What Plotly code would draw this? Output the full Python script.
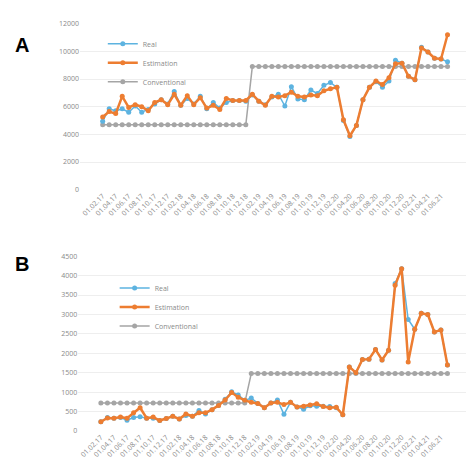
import plotly.graph_objects as go

# months 01.02.17 .. 01.07.21
months = []
for y in range(17, 22):
    for m in range(1, 13):
        if (y == 17 and m < 2) or (y == 21 and m > 7):
            continue
        months.append(f'01.{m:02d}.{y}')
tick_labels = months[::2]

real_a = [4950, 5850, 5700, 5850, 5600, 6050, 5600, 5800, 6200, 6500, 6200, 7100, 6100, 6600,
          6200, 6750, 5850, 6300, 5900, 6300, 6450, 6450, 6400, 6850, 6400, 6150, 6700, 6900,
          6050, 7450, 6550, 6500, 7200, 6950, 7550, 7750, 7400, 5000, 3850, 4650, 6500, 7400,
          7800, 7400, 7850, 9350, 9150, 8200, 7950, 10300, 9950, 9500, 9450, 9250]
est_a = [5250, 5650, 5500, 6750, 5950, 6150, 6000, 5700, 6300, 6500, 6150, 6900, 6100, 6800,
         6150, 6650, 5900, 6100, 5800, 6600, 6450, 6450, 6450, 6900, 6400, 6100, 6750, 6700,
         6800, 7050, 6750, 6700, 6850, 6800, 7150, 7300, 7400, 5050, 3900, 4650, 6500, 7400,
         7850, 7600, 8100, 9100, 9150, 8200, 7950, 10250, 9950, 9500, 9450, 11200]
conv_a = [4700] * 23 + [8900] * 31

real_b = [240, 350, 330, 350, 280, 350, 370, 330, 330, 270, 320, 380, 310, 400, 380, 530, 440,
          550, 660, 820, 1010, 930, 790, 850, 710, 600, 720, 800, 430, 740, 620, 560, 650, 640,
          640, 630, 600, 420, 1650, 1500, 1840, 1850, 2100, 1830, 2080, 3800, 4180, 2870, 2620,
          3030, 3000, 2550, 2600, 1700]
est_b = [240, 335, 330, 360, 330, 470, 600, 330, 360, 270, 320, 380, 310, 440, 380, 470, 470,
         550, 660, 800, 990, 870, 790, 740, 710, 600, 720, 740, 680, 740, 620, 640, 670, 700,
         630, 600, 610, 420, 1650, 1500, 1840, 1850, 2100, 1830, 2080, 3750, 4180, 1780, 2620,
         3030, 3000, 2550, 2600, 1700]
conv_b = [720] * 23 + [1480] * 31

colors = {'Real': '#5DB3E0', 'Estimation': '#ED7D31', 'Conventional': '#A5A5A5'}
ranks = {'Real': 1, 'Estimation': 2, 'Conventional': 3}

fig = go.Figure()
# gray drawn first so the other lines sit on top
for name, a, b in [('Conventional', conv_a, conv_b), ('Real', real_a, real_b),
                   ('Estimation', est_a, est_b)]:
    w = 2.5 if name == 'Estimation' else 1.5
    for vals, xa, ya, lg in [(a, 'x', 'y', 'legend'), (b, 'x2', 'y2', 'legend2')]:
        fig.add_trace(go.Scatter(x=months, y=vals, name=name, xaxis=xa, yaxis=ya, legend=lg,
                                 legendrank=ranks[name],
                                 mode='lines+markers', line=dict(color=colors[name], width=w),
                                 marker=dict(size=5, color=colors[name])))

axis_font = dict(family='Open Sans', size=7, color='#8a8a8a')
xcommon = dict(type='category', tickvals=tick_labels, ticktext=tick_labels, tickangle=-45,
               tickfont=axis_font, showgrid=False, showline=False, ticks='')
ycommon = dict(tickfont=axis_font, showgrid=True, gridcolor='#eeeeee', zeroline=False, ticks='',
               tickformat='d')

leg_font = dict(family='Open Sans', size=7, color='#8a8a8a')
fig.update_layout(
    width=474, height=474, margin=dict(l=0, r=0, t=0, b=0),
    paper_bgcolor='white', plot_bgcolor='white', showlegend=True,
    xaxis=dict(domain=[0.152, 0.975], anchor='y', **xcommon),
    yaxis=dict(domain=[0.620, 0.977], anchor='x', range=[0, 12000], dtick=2000, **ycommon),
    xaxis2=dict(domain=[0.148, 0.975], anchor='y2', **xcommon),
    yaxis2=dict(domain=[0.101, 0.477], anchor='x2', range=[0, 4500], dtick=500, **ycommon),
    legend=dict(x=0.2, y=0.965, xanchor='left', yanchor='top', bgcolor='rgba(0,0,0,0)',
                font=leg_font, tracegroupgap=6, traceorder='normal', itemwidth=30),
    legend2=dict(x=0.225, y=0.44, xanchor='left', yanchor='top', bgcolor='rgba(0,0,0,0)',
                 font=leg_font, tracegroupgap=6, traceorder='normal', itemwidth=30),
    annotations=[
        dict(text='<b>A</b>', x=0.01, y=0.96, xref='paper', yref='paper', showarrow=False,
             xanchor='left', font=dict(family='Liberation Sans', size=20, color='black')),
        dict(text='<b>B</b>', x=0.01, y=0.46, xref='paper', yref='paper', showarrow=False,
             xanchor='left', font=dict(family='Liberation Sans', size=20, color='black')),
    ],
)

fig.write_html('out.html')
